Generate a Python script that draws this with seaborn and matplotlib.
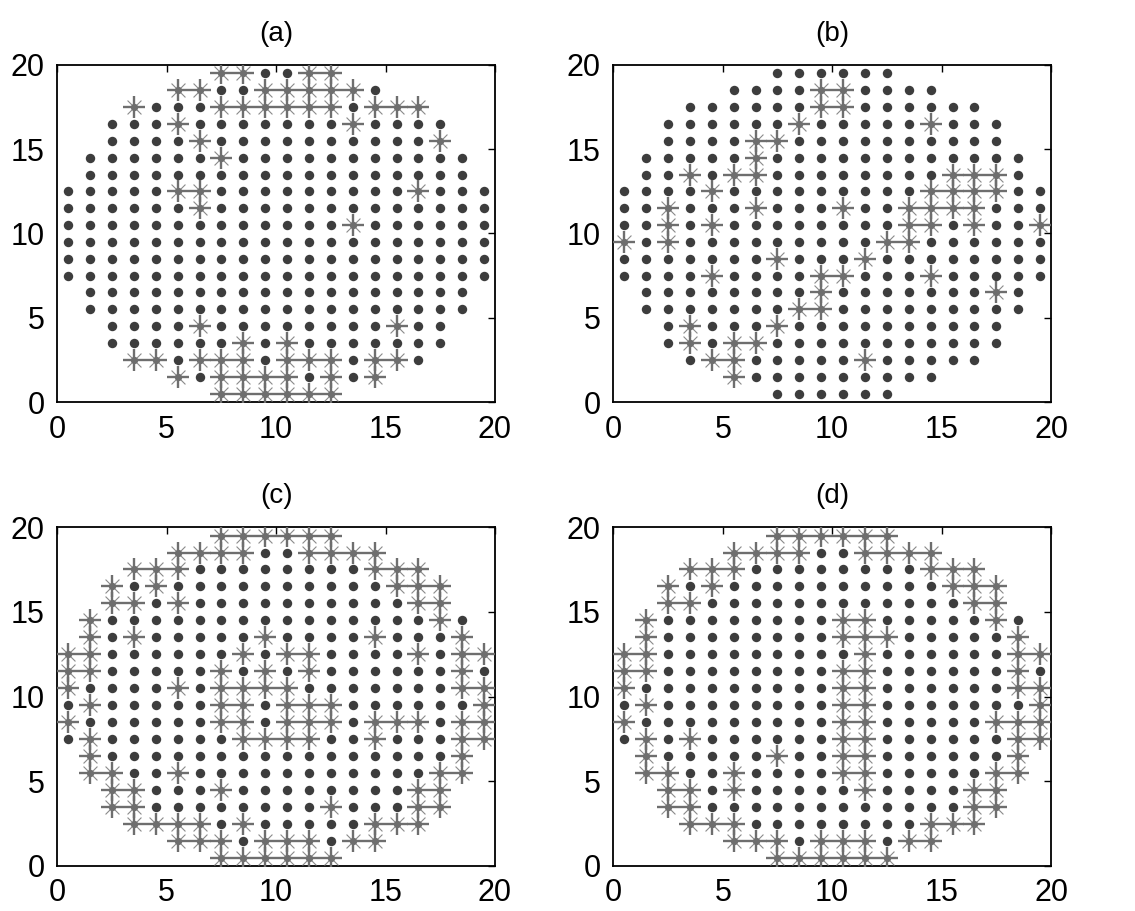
import numpy as np
import pandas as pd
import matplotlib
matplotlib.use("Agg")
import matplotlib.pyplot as plt
import seaborn as sns

# wafer layout: one row per y (top to bottom), first die column in that row (rows are symmetric)
ROW_Y = [19.5, 18.5, 17.5, 16.5, 15.5, 14.5, 13.5, 12.5, 11.5, 10.5,
         9.5, 8.5, 7.5, 6.5, 5.5, 4.5, 3.5, 2.5, 1.5, 0.5]
ROW_FIRST_X = [7.5, 5.5, 3.5, 2.5, 2.5, 1.5, 1.5, 0.5, 0.5, 0.5,
               0.5, 0.5, 0.5, 1.5, 1.5, 2.5, 2.5, 3.5, 5.5, 7.5]

# x positions of the '*' dies in each row, same row order as ROW_Y
STARS_A = [
    [7.5, 8.5, 11.5, 12.5],
    [5.5, 6.5, 9.5, 10.5, 11.5, 12.5, 13.5],
    [3.5, 7.5, 8.5, 9.5, 10.5, 11.5, 12.5, 14.5, 15.5, 16.5],
    [5.5, 13.5],
    [6.5, 17.5],
    [7.5],
    [],
    [5.5, 6.5, 16.5],
    [6.5],
    [13.5],
    [], [], [], [], [],
    [6.5, 15.5],
    [8.5, 10.5],
    [3.5, 4.5, 6.5, 7.5, 8.5, 10.5, 11.5, 12.5, 14.5, 15.5],
    [5.5, 7.5, 8.5, 9.5, 10.5, 12.5, 14.5],
    [7.5, 8.5, 9.5, 10.5, 11.5, 12.5],
]
STARS_B = [
    [],
    [9.5, 10.5],
    [9.5, 10.5],
    [8.5, 14.5],
    [6.5, 7.5],
    [6.5],
    [3.5, 5.5, 6.5, 15.5, 16.5, 17.5],
    [4.5, 14.5, 15.5, 16.5, 17.5],
    [2.5, 6.5, 10.5, 13.5, 14.5, 15.5, 16.5],
    [2.5, 4.5, 13.5, 14.5, 16.5, 19.5],
    [0.5, 2.5, 12.5, 13.5],
    [7.5, 11.5],
    [4.5, 9.5, 10.5, 14.5],
    [9.5, 17.5],
    [8.5, 9.5],
    [3.5, 7.5],
    [3.5, 5.5, 6.5],
    [4.5, 5.5, 11.5],
    [5.5],
    [],
]
STARS_C = [
    [7.5, 8.5, 9.5, 10.5, 11.5, 12.5],
    [5.5, 6.5, 7.5, 8.5, 11.5, 12.5, 13.5, 14.5],
    [3.5, 4.5, 5.5, 14.5, 15.5, 16.5],
    [2.5, 4.5, 15.5, 16.5, 17.5],
    [2.5, 3.5, 5.5, 16.5, 17.5],
    [1.5, 17.5],
    [1.5, 3.5, 9.5, 14.5, 18.5],
    [0.5, 1.5, 8.5, 10.5, 11.5, 16.5, 18.5, 19.5],
    [0.5, 1.5, 7.5, 9.5, 11.5, 18.5],
    [0.5, 5.5, 7.5, 8.5, 9.5, 10.5, 18.5, 19.5],
    [1.5, 7.5, 8.5, 10.5, 11.5, 12.5, 19.5],
    [0.5, 7.5, 8.5, 10.5, 11.5, 12.5, 14.5, 15.5, 16.5, 18.5, 19.5],
    [1.5, 8.5, 9.5, 10.5, 11.5, 14.5, 18.5, 19.5],
    [1.5, 18.5],
    [1.5, 2.5, 5.5, 17.5, 18.5],
    [2.5, 3.5, 7.5, 16.5, 17.5],
    [2.5, 3.5, 12.5, 16.5, 17.5],
    [3.5, 4.5, 5.5, 6.5, 8.5, 14.5, 15.5, 16.5],
    [5.5, 6.5, 7.5, 9.5, 10.5, 11.5, 13.5, 14.5],
    [7.5, 8.5, 9.5, 10.5, 11.5, 12.5],
]
STARS_D = [
    [7.5, 8.5, 9.5, 10.5, 11.5, 12.5],
    [5.5, 6.5, 7.5, 8.5, 11.5, 12.5, 13.5, 14.5],
    [3.5, 4.5, 5.5, 14.5, 15.5, 16.5],
    [2.5, 4.5, 15.5, 16.5, 17.5],
    [2.5, 3.5, 16.5, 17.5],
    [1.5, 10.5, 11.5, 17.5],
    [1.5, 10.5, 11.5, 12.5, 18.5],
    [0.5, 1.5, 11.5, 18.5, 19.5],
    [0.5, 1.5, 10.5, 11.5, 18.5],
    [0.5, 10.5, 11.5, 18.5, 19.5],
    [1.5, 10.5, 11.5, 19.5],
    [0.5, 10.5, 11.5, 17.5, 18.5, 19.5],
    [1.5, 3.5, 10.5, 11.5, 18.5, 19.5],
    [1.5, 7.5, 10.5, 11.5, 18.5],
    [1.5, 2.5, 5.5, 10.5, 11.5, 17.5, 18.5],
    [2.5, 3.5, 5.5, 11.5, 16.5, 17.5],
    [2.5, 3.5, 16.5, 17.5],
    [3.5, 4.5, 5.5, 14.5, 15.5, 16.5],
    [5.5, 6.5, 7.5, 9.5, 10.5, 11.5, 13.5, 14.5],
    [7.5, 8.5, 9.5, 10.5, 11.5, 12.5],
]

PANEL_TITLES = ["(a)", "(b)", "(c)", "(d)"]
PANEL_STARS = [STARS_A, STARS_B, STARS_C, STARS_D]
TICKS = [0, 5, 10, 15, 20]

DOT_COLOR = "#3d3d3d"
STAR_COLOR = "#6e6e6e"


def wafer_frame(stars_by_row):
    records = []
    for y, first, stars in zip(ROW_Y, ROW_FIRST_X, stars_by_row):
        for x in np.arange(first, 20 - first + 0.5, 1.0):
            records.append({"x": x, "y": y, "state": "star" if x in stars else "dot"})
    return pd.DataFrame(records)


sns.set_theme(style="white", rc={
    "axes.edgecolor": "black",
    "axes.linewidth": 1.3,
    "text.color": "black",
    "xtick.color": "black",
    "ytick.color": "black",
})
plt.rcParams["font.family"] = ["Liberation Sans", "DejaVu Sans"]

fig = plt.figure(figsize=(11.35, 9.11), dpi=100)
positions = [
    [0.0505, 0.5587, 0.3856, 0.370],
    [0.5404, 0.5587, 0.3856, 0.370],
    [0.0505, 0.0494, 0.3856, 0.372],
    [0.5404, 0.0494, 0.3856, 0.372],
]

for pos, title, stars in zip(positions, PANEL_TITLES, PANEL_STARS):
    ax = fig.add_axes(pos)
    df = wafer_frame(stars)
    dots = df[df["state"] == "dot"]
    hits = df[df["state"] == "star"]

    sns.scatterplot(data=dots, x="x", y="y", color=DOT_COLOR, marker="o",
                    s=46, linewidth=0, ax=ax, legend=False, zorder=2)
    # matlab style '*' marker: long plus, short faint cross, grey centre
    sns.scatterplot(data=hits, x="x", y="y", color=STAR_COLOR, marker="+",
                    s=256, linewidth=1.7, ax=ax, legend=False, zorder=3)
    sns.scatterplot(data=hits, x="x", y="y", color="#8a8a8a", marker="x",
                    s=100, linewidth=0.8, ax=ax, legend=False, zorder=3)
    sns.scatterplot(data=hits, x="x", y="y", color=STAR_COLOR, marker="o",
                    s=28, linewidth=0, ax=ax, legend=False, zorder=4)

    ax.set_xlim(0, 20)
    ax.set_ylim(0, 20)
    ax.set_xticks(TICKS)
    ax.set_yticks(TICKS)
    ax.set_xlabel("")
    ax.set_ylabel("")
    for spine in ax.spines.values():
        spine.set_visible(True)
    ax.tick_params(direction="in", top=True, right=True, length=5, width=1,
                   labelsize=22, pad=9)
    ax.set_title(title, fontsize=20, pad=17)

fig.savefig("out.png", dpi=100)
plt.close(fig)
